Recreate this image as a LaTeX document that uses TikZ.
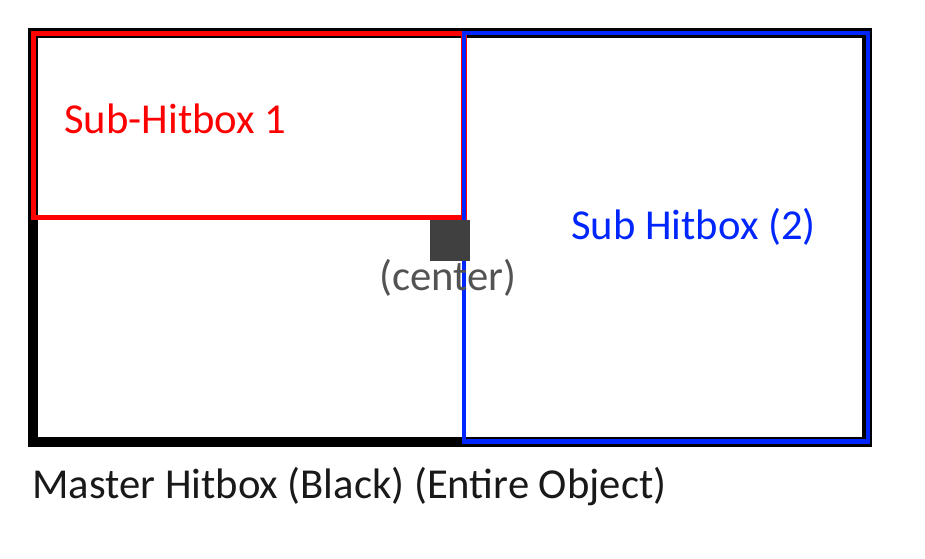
\documentclass[tikz,border=0pt]{standalone}
\usepackage{fontspec}
\setmainfont{Carlito}
\definecolor{hitred}{RGB}{255,0,0}
\definecolor{hitblue}{RGB}{0,38,255}
\definecolor{centergray}{RGB}{64,64,64}
\tikzset{
  label text/.style={inner sep=0pt, anchor=base west,
    font=\fontsize{32}{38}\selectfont},
}
\begin{document}
\begin{tikzpicture}[x=0.75pt, y=-0.75pt]
  \useasboundingbox (0,0) rectangle (925,558);
  % hitboxes
  \draw[line width=7.5pt] (33,33) rectangle (867,442);
  \draw[hitred, line width=4.2pt] (33.5,33.5) rectangle (464,217.5);
  \draw[hitblue, line width=3.6pt] (464,33) rectangle (868,441.5);
  % center marker
  \fill[centergray] (430,220) rectangle (470,261);
  \coordinate (mid) at (450,240);
  % labels
  \node[label text, hitred] (sub1) at (64,133) {Sub-Hitbox 1};
  \node[label text, hitblue] (sub2) at (571,239) {Sub Hitbox (2)};
  \node[label text, anchor=base, centergray!90] (ctr) at (448,290) {(center)};
  \node[label text, black!90] (master) at (32,498)
    {Master Hitbox (Black) (Entire Object)};
\end{tikzpicture}
\end{document}
